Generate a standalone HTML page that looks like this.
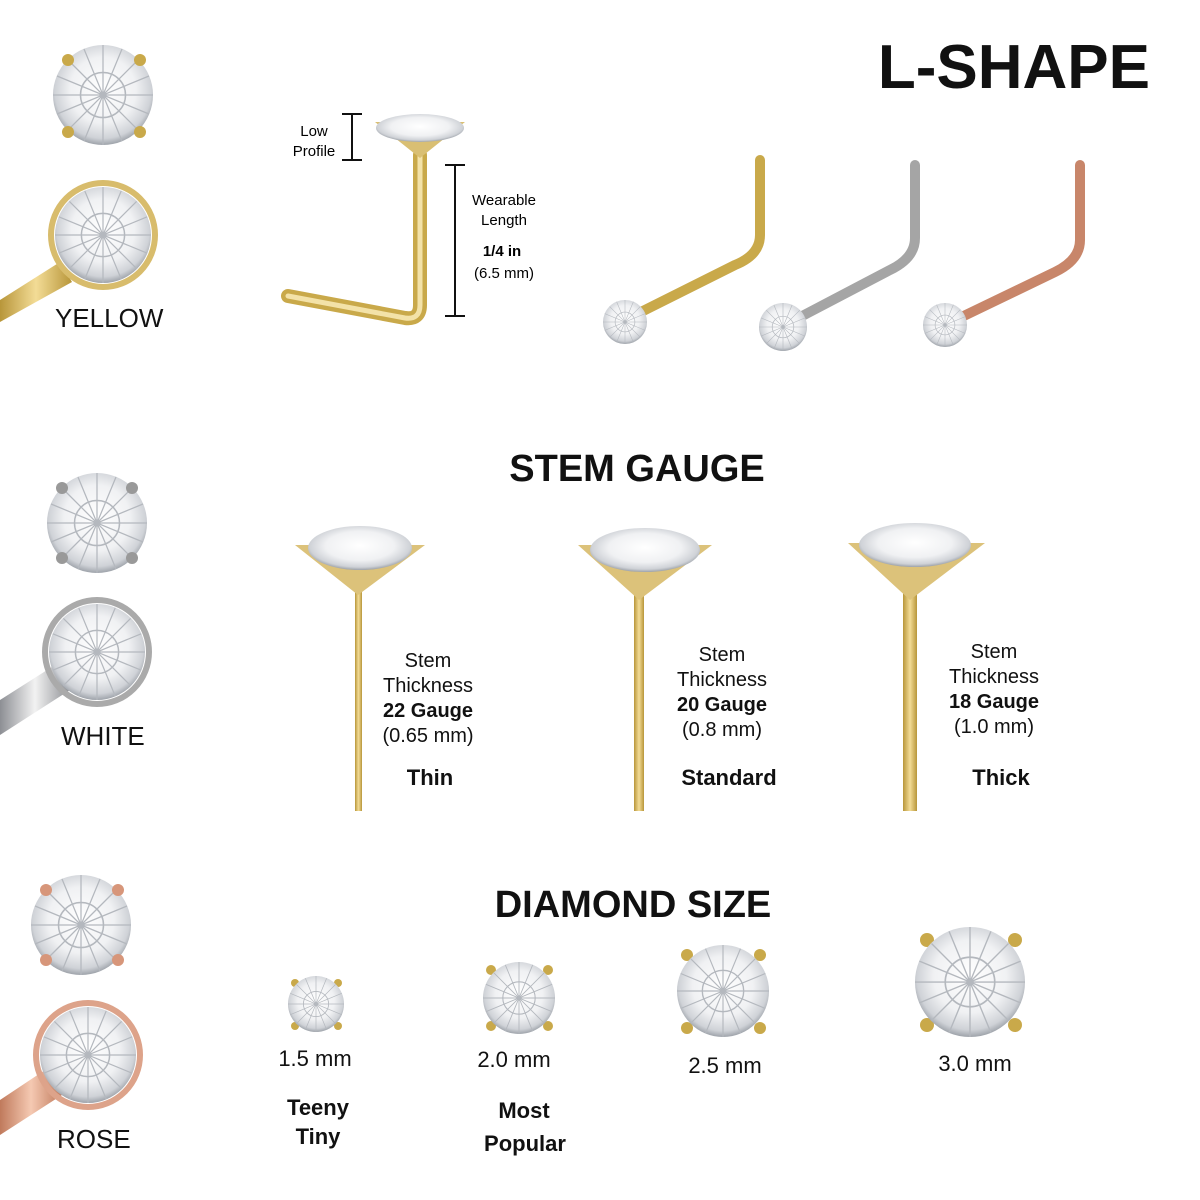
<!DOCTYPE html>
<html><head><meta charset="utf-8"><style>
body{margin:0;background:#fff;width:1200px;height:1200px;overflow:hidden;font-family:"Liberation Sans",Arial,sans-serif}
svg{position:absolute;left:0;top:0}
</style></head><body>
<svg width="1200" height="1200" viewBox="0 0 1200 1200" xmlns="http://www.w3.org/2000/svg" font-family="Liberation Sans, Arial, sans-serif">
<defs>
<radialGradient id="dia" cx="50%" cy="45%" r="55%">
<stop offset="0" stop-color="#ffffff"/><stop offset="0.6" stop-color="#f0f1f3"/><stop offset="0.88" stop-color="#cfd2d7"/><stop offset="1" stop-color="#9ea3aa"/>
</radialGradient>
<linearGradient id="gold" x1="0" x2="1"><stop offset="0" stop-color="#b8963a"/><stop offset="0.5" stop-color="#f3dc96"/><stop offset="1" stop-color="#b8963a"/></linearGradient>
<linearGradient id="silver" x1="0" x2="1"><stop offset="0" stop-color="#8d8f94"/><stop offset="0.5" stop-color="#f2f2f2"/><stop offset="1" stop-color="#8d8f94"/></linearGradient>
<linearGradient id="rose" x1="0" x2="1"><stop offset="0" stop-color="#c07a5c"/><stop offset="0.5" stop-color="#f5c9b2"/><stop offset="1" stop-color="#c07a5c"/></linearGradient>
<g id="facet">
<circle r="1" fill="url(#dia)"/>
<path d="M-1 0L1 0M0 -1L0 1M-.7 -.7L.7 .7M-.7 .7L.7 -.7M-.38 -.92L.38 .92M.38 -.92L-.38 .92M-.92 -.38L.92 .38M-.92 .38L.92 -.38" stroke="#b4b8be" stroke-width=".025"/>
<circle r=".45" fill="none" stroke="#b4b8be" stroke-width=".03"/>
</g>
</defs>

<g>
<use href="#facet" transform="translate(103,95) scale(50)"/>
<g fill="#c9a94a"><circle cx="68" cy="60" r="6"/><circle cx="140" cy="60" r="6"/><circle cx="68" cy="132" r="6"/><circle cx="140" cy="132" r="6"/></g>
<path d="M0 300L60 262L72 282L0 322Z" fill="url(#gold)"/>
<circle cx="103" cy="235" r="52" fill="none" stroke="#d8bc6c" stroke-width="6"/>
<use href="#facet" transform="translate(103,235) scale(48)"/>
<text x="55" y="327" font-size="26" fill="#111">YELLOW</text>

<use href="#facet" transform="translate(97,523) scale(50)"/>
<g fill="#999"><circle cx="62" cy="488" r="6"/><circle cx="132" cy="488" r="6"/><circle cx="62" cy="558" r="6"/><circle cx="132" cy="558" r="6"/></g>
<path d="M0 700L55 665L70 690L0 735Z" fill="url(#silver)"/>
<circle cx="97" cy="652" r="52" fill="none" stroke="#aaa" stroke-width="6"/>
<use href="#facet" transform="translate(97,652) scale(48)"/>
<text x="61" y="745" font-size="26" fill="#111">WHITE</text>

<use href="#facet" transform="translate(81,925) scale(50)"/>
<g fill="#d7967a"><circle cx="46" cy="890" r="6"/><circle cx="118" cy="890" r="6"/><circle cx="46" cy="960" r="6"/><circle cx="118" cy="960" r="6"/></g>
<path d="M0 1100L45 1070L62 1095L0 1135Z" fill="url(#rose)"/>
<circle cx="88" cy="1055" r="52" fill="none" stroke="#dda38a" stroke-width="6"/>
<use href="#facet" transform="translate(88,1055) scale(48)"/>
<text x="57" y="1148" font-size="26" fill="#111">ROSE</text>
</g>

<text x="1150" y="88" font-size="62" font-weight="bold" text-anchor="end" fill="#111">L-SHAPE</text>

<path d="M420 155L420 305Q420 320 405 318L288 296" fill="none" stroke="#c9a94a" stroke-width="14" stroke-linecap="round"/>
<path d="M420 155L420 305Q420 320 405 318L288 296" fill="none" stroke="#f3e2a8" stroke-width="5" stroke-linecap="round"/>
<path d="M375 122L465 122L420 158Z" fill="#d9bf73"/>
<ellipse cx="420" cy="128" rx="44" ry="14" fill="url(#dia)"/>
<g stroke="#111" stroke-width="2" fill="none">
<path d="M342 114H362M352 114V160M342 160H362"/>
<path d="M445 165H465M455 165V316M445 316H465"/>
</g>
<text x="314" y="136" font-size="15" text-anchor="middle">Low</text>
<text x="314" y="156" font-size="15" text-anchor="middle">Profile</text>
<text x="504" y="205" font-size="15" text-anchor="middle">Wearable</text>
<text x="504" y="225" font-size="15" text-anchor="middle">Length</text>
<text x="502" y="256" font-size="15" font-weight="bold" text-anchor="middle">1/4 in</text>
<text x="504" y="278" font-size="15" text-anchor="middle">(6.5 mm)</text>

<g fill="none" stroke-linecap="round">
<path d="M625 320L735 265Q760 255 760 235L760 160" stroke="#c9a94a" stroke-width="10"/>
<path d="M785 325L890 270Q915 258 915 238L915 165" stroke="#a5a5a5" stroke-width="10"/>
<path d="M945 325L1055 272Q1080 260 1080 240L1080 165" stroke="#c8866a" stroke-width="10"/>
</g>
<use href="#facet" transform="translate(625,322) scale(22)"/>
<use href="#facet" transform="translate(783,327) scale(24)"/>
<use href="#facet" transform="translate(945,325) scale(22)"/>

<text x="637" y="481" font-size="38" font-weight="bold" text-anchor="middle" fill="#111">STEM GAUGE</text>

<g>
<rect x="355" y="575" width="7" height="236" fill="url(#gold)"/>
<path d="M295 545L425 545L358 595Z" fill="#dcc27a"/>
<ellipse cx="360" cy="548" rx="52" ry="22" fill="url(#dia)"/>
<rect x="634" y="575" width="10" height="236" fill="url(#gold)"/>
<path d="M578 545L712 545L639 600Z" fill="#dcc27a"/>
<ellipse cx="645" cy="550" rx="55" ry="22" fill="url(#dia)"/>
<rect x="903" y="575" width="14" height="236" fill="url(#gold)"/>
<path d="M848 543L985 543L910 600Z" fill="#dcc27a"/>
<ellipse cx="915" cy="545" rx="56" ry="22" fill="url(#dia)"/>
</g>
<g font-size="20" text-anchor="middle" fill="#111">
<text x="428" y="667">Stem</text><text x="428" y="692">Thickness</text>
<text x="428" y="717" font-weight="bold">22 Gauge</text><text x="428" y="742">(0.65 mm)</text>
<text x="430" y="785" font-weight="bold" font-size="22">Thin</text>
<text x="722" y="661">Stem</text><text x="722" y="686">Thickness</text>
<text x="722" y="711" font-weight="bold">20 Gauge</text><text x="722" y="736">(0.8 mm)</text>
<text x="729" y="785" font-weight="bold" font-size="22">Standard</text>
<text x="994" y="658">Stem</text><text x="994" y="683">Thickness</text>
<text x="994" y="708" font-weight="bold">18 Gauge</text><text x="994" y="733">(1.0 mm)</text>
<text x="1001" y="785" font-weight="bold" font-size="22">Thick</text>
</g>

<text x="633" y="917" font-size="38" font-weight="bold" text-anchor="middle" fill="#111">DIAMOND SIZE</text>

<g fill="#c9a94a">
<circle cx="295" cy="983" r="4"/><circle cx="338" cy="983" r="4"/><circle cx="295" cy="1026" r="4"/><circle cx="338" cy="1026" r="4"/>
<circle cx="491" cy="970" r="5"/><circle cx="548" cy="970" r="5"/><circle cx="491" cy="1026" r="5"/><circle cx="548" cy="1026" r="5"/>
<circle cx="687" cy="955" r="6"/><circle cx="760" cy="955" r="6"/><circle cx="687" cy="1028" r="6"/><circle cx="760" cy="1028" r="6"/>
<circle cx="927" cy="940" r="7"/><circle cx="1015" cy="940" r="7"/><circle cx="927" cy="1025" r="7"/><circle cx="1015" cy="1025" r="7"/>
</g>
<use href="#facet" transform="translate(316,1004) scale(28)"/>
<use href="#facet" transform="translate(519,998) scale(36)"/>
<use href="#facet" transform="translate(723,991) scale(46)"/>
<use href="#facet" transform="translate(970,982) scale(55)"/>
<g font-size="22" text-anchor="middle" fill="#111">
<text x="315" y="1066">1.5 mm</text>
<text x="514" y="1067">2.0 mm</text>
<text x="725" y="1073">2.5 mm</text>
<text x="975" y="1071">3.0 mm</text>
<g font-weight="bold">
<text x="318" y="1115">Teeny</text><text x="318" y="1144">Tiny</text>
<text x="524" y="1118">Most</text><text x="525" y="1151">Popular</text>
</g>
</g>
</svg>
</body></html>
